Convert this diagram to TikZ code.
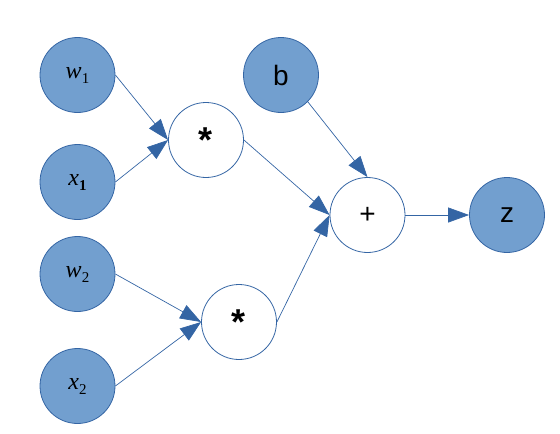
\documentclass[tikz,border=0pt]{standalone}
\usepackage{fontspec}
\setmainfont{Liberation Serif}
\newfontfamily\sansf{Liberation Sans}
\usetikzlibrary{arrows.meta}
\definecolor{nodefill}{HTML}{729FCF}
\definecolor{nodeline}{HTML}{3465A4}
\newcommand{\varlab}[2]{{\fontsize{24}{24}\selectfont\itshape #1\raisebox{-5pt}{\fontsize{15}{15}\selectfont\upshape #2}}}
\newcommand{\astlab}{\raisebox{-4pt}{\fontsize{36}{36}\selectfont\bfseries *}}
\tikzset{
  varnode/.style={circle, draw=nodeline, fill=nodefill, line width=0.8pt, minimum size=75pt, inner sep=0pt},
  opnode/.style={circle, draw=nodeline, fill=white, line width=0.8pt, minimum size=75pt, inner sep=0pt, font=\sansf\fontsize{28}{28}\selectfont},
  sansnode/.style={varnode, font=\sansf\fontsize{28}{28}\selectfont},
  conn/.style={draw=nodeline, line width=0.7pt, -{Triangle[length=21pt,width=15pt]}}
}
\begin{document}
\begin{tikzpicture}[x=1pt,y=-1pt]
\useasboundingbox (0,0) rectangle (560,434);
\node[varnode] (w1) at (77.5,75) {\varlab{w}{1}};
\node[varnode] (x1) at (77.5,182) {\varlab{x}{\bfseries 1}};
\node[varnode] (w2) at (77.5,274) {\varlab{w}{2}};
\node[varnode] (x2) at (77.5,386) {\varlab{x}{2}};
\node[opnode] (m1) at (206,140) {\astlab};
\node[opnode] (m2) at (239,322) {\astlab};
\node[sansnode] (b) at (281,75) {b};
\node[opnode] (p) at (367.5,215) {+};
\node[sansnode] (z) at (507,215) {z};
\draw[conn] (w1.east) -- (m1.west);
\draw[conn] (x1.east) -- (m1.west);
\draw[conn] (w2.east) -- (m2.west);
\draw[conn] (x2.east) -- (m2.west);
\draw[conn] (m1.east) -- (p.west);
\draw[conn] (m2.east) -- (p.west);
\draw[conn] (b.south east) -- (p.north);
\draw[conn] (p.east) -- (z.west);
\end{tikzpicture}
\end{document}
